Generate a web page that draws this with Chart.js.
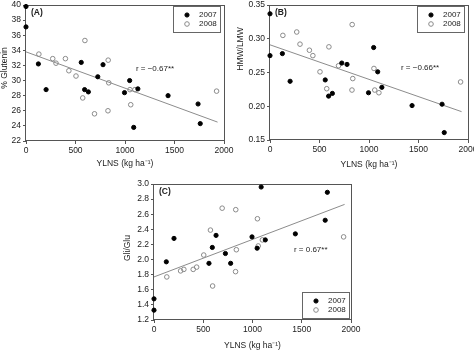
<!DOCTYPE html>
<html>
<head>
<meta charset="utf-8">
<script src="https://cdn.jsdelivr.net/npm/chart.js@4.4.0/dist/chart.umd.min.js"></script>
<style>
  html, body { margin: 0; padding: 0; background: #fff; }
  body { width: 474px; height: 351px; position: relative; overflow: hidden; }
  canvas { position: absolute; }
</style>
</head>
<body>
<canvas id="chartA" style="left:0;top:0" width="236" height="175"></canvas>
<canvas id="chartB" style="left:236px;top:0" width="238" height="175"></canvas>
<canvas id="chartC" style="left:122px;top:175px" width="248" height="176"></canvas>
<script>
// YLNS (kg/ha) of each sample, per year
const ylns2007 = [0, 0, 125, 203, 558, 592, 630, 725, 778, 995, 1047, 1088, 1130, 1435, 1738, 1760];
const ylns2008 = [130, 270, 303, 398, 433, 505, 573, 595, 692, 830, 836, 828, 1050, 1058, 1100, 1925];

// (A) % Glutenin
const glutenin2007 = [39.8, 37.1, 32.2, 28.8, 32.4, 28.8, 28.5, 30.5, 32.1, 28.4, 30.0, 23.8, 28.9, 28.0, 26.9, 24.3];
const glutenin2008 = [33.5, 32.9, 32.3, 32.9, 31.3, 30.6, 27.7, 35.3, 25.6, 32.7, 29.7, 26.0, 28.8, 26.8, 28.8, 28.6];
// (B) HMW/LMW
const hmwLmw2007 = [0.337, 0.275, 0.278, 0.237, 0.239, 0.215, 0.219, 0.264, 0.262, 0.220, 0.287, 0.251, 0.228, 0.201, 0.203, 0.161];
const hmwLmw2008 = [0.305, 0.310, 0.292, 0.283, 0.275, 0.251, 0.226, 0.288, 0.260, 0.321, 0.241, 0.224, 0.256, 0.224, 0.220, 0.236];
// (C) Gli/Glu
const gliGlu2007 = [1.48, 1.33, 1.97, 2.28, 1.95, 2.16, 2.32, 2.08, 1.95, 2.30, 2.15, 2.96, 2.26, 2.34, 2.52, 2.89];
const gliGlu2008 = [1.77, 1.85, 1.87, 1.87, 1.90, 2.06, 2.39, 1.65, 2.68, 2.66, 2.13, 1.84, 2.54, 2.18, 2.26, 2.30];

// regression lines (start / end)
const fitX = [0, 1935];
const fitGlutenin = [33.8, 24.5];
const fitHmwLmw = [0.291, 0.192];
const fitGliGlu = [1.77, 2.73];

const xTicks = [0, 500, 1000, 1500, 2000];
const years = ['2007', '2008'];

const FONT = '"Liberation Sans", Arial, sans-serif';
const TEXT = '#222';
const AXIS = '#555';

function pts(xs, ys) { return xs.map((x, i) => ({ x: x, y: ys[i] })); }

// frame, legend box, panel letter, r value and rotated y title
const panelExtras = {
  id: 'panelExtras',
  beforeDatasetsDraw(chart) {
    const { ctx, chartArea: a } = chart;
    ctx.save();
    ctx.strokeStyle = AXIS;
    ctx.lineWidth = 1;
    ctx.strokeRect(Math.round(a.left) - 0.5, Math.round(a.top) + 0.5,
                   Math.round(a.right - a.left) + 1, Math.round(a.bottom - a.top) - 1);
    ctx.restore();
  },
  afterDraw(chart, args, o) {
    const { ctx, chartArea: a, scales } = chart;
    ctx.save();
    ctx.fillStyle = TEXT;
    ctx.textBaseline = 'middle';

    // panel letter
    ctx.font = 'bold 8.5px ' + FONT;
    ctx.textAlign = 'left';
    ctx.fillText(o.letter, a.left + 5, a.top + 8);

    // correlation
    ctx.font = '8px ' + FONT;
    ctx.fillText(o.rText, scales.x.getPixelForValue(o.rAt[0]), scales.y.getPixelForValue(o.rAt[1]));

    // y title
    ctx.save();
    ctx.translate(o.yTitle.x, o.yTitle.y);
    ctx.rotate(-Math.PI / 2);
    ctx.textAlign = 'center';
    ctx.font = '8.5px ' + FONT;
    ctx.fillText(o.yTitle.text, 0, 0);
    ctx.restore();

    // legend
    const lw = 47, lh = 26;
    const left = Math.round(a.right - o.legendInset - lw);
    const top = o.legendAt === 'bottom' ? Math.round(a.bottom - 2 - lh) : Math.round(a.top + 1);
    ctx.strokeStyle = '#666';
    ctx.lineWidth = 1;
    ctx.strokeRect(left + 0.5, top + 0.5, lw, lh);
    ctx.font = '8px ' + FONT;
    chart.data.datasets.slice(0, 2).forEach((ds, i) => {
      const cy = top + 9 + i * 9;
      ctx.beginPath();
      ctx.arc(left + 14, cy, ds.pointRadius, 0, Math.PI * 2);
      ctx.fillStyle = ds.backgroundColor;
      ctx.fill();
      ctx.strokeStyle = ds.borderColor;
      ctx.lineWidth = ds.borderWidth;
      ctx.stroke();
      ctx.fillStyle = TEXT;
      ctx.fillText(ds.label, left + 26, cy);
    });
    ctx.restore();
  }
};

function makePanel(id, cfg) {
  return new Chart(document.getElementById(id), {
    data: {
      datasets: [
        { type: 'scatter', label: years[0], data: pts(ylns2007, cfg.y07),
          backgroundColor: '#000', borderColor: '#000', borderWidth: 1, pointRadius: 2.1, clip: false },
        { type: 'scatter', label: years[1], data: pts(ylns2008, cfg.y08),
          backgroundColor: 'rgba(255,255,255,0)', borderColor: '#8a8a8a', borderWidth: 1, pointRadius: 2.3, clip: false },
        { type: 'line', label: 'fit', data: pts(fitX, cfg.fit),
          borderColor: '#8c8c8c', borderWidth: 1, pointRadius: 0, fill: false }
      ]
    },
    options: {
      responsive: false,
      animation: false,
      devicePixelRatio: 1,
      layout: { padding: { top: cfg.padTop, right: cfg.padRight, left: 0, bottom: 0 } },
      plugins: {
        legend: { display: false },
        tooltip: { enabled: false },
        panelExtras: cfg.extras
      },
      scales: {
        x: {
          type: 'linear', min: 0, max: 2000,
          afterBuildTicks: s => { s.ticks = xTicks.map(v => ({ value: v })); },
          ticks: { color: TEXT, font: { family: FONT, size: 8.5 }, padding: 2, maxRotation: 0, autoSkip: false,
                   callback: v => String(v) },
          grid: { drawOnChartArea: false, tickLength: 3, color: AXIS },
          border: { display: false },
          title: { display: true, text: 'YLNS (kg ha\u207B\u00B9)', color: TEXT,
                   font: { family: FONT, size: 8.5 }, padding: { top: 0, bottom: cfg.xTitlePad } },
          afterFit: s => { s.height = cfg.xH; s.paddingLeft = 0; s.paddingRight = 0; }
        },
        y: {
          type: 'linear', min: cfg.yMin, max: cfg.yMax,
          afterBuildTicks: s => { s.ticks = cfg.yTicks.map(v => ({ value: v })); },
          ticks: { color: TEXT, font: { family: FONT, size: 8.5 }, padding: 2,
                   callback: v => v.toFixed(cfg.dec) },
          grid: { drawOnChartArea: false, tickLength: 3, color: AXIS },
          border: { display: false },
          afterFit: s => { s.width = cfg.yW; s.paddingTop = 0; s.paddingBottom = 0; }
        }
      }
    },
    plugins: [panelExtras]
  });
}

makePanel('chartA', {
  y07: glutenin2007, y08: glutenin2008, fit: fitGlutenin,
  yMin: 22, yMax: 40, yTicks: [22, 24, 26, 28, 30, 32, 34, 36, 38, 40], dec: 0,
  yW: 26, xH: 34, padTop: 4, padRight: 12, xTitlePad: 6,
  extras: { letter: '(A)', rText: 'r = \u22120.67**', rAt: [1110, 31.5],
            yTitle: { text: '% Glutenin', x: 5, y: 68 }, legendAt: 'top', legendInset: 4 }
});

makePanel('chartB', {
  y07: hmwLmw2007, y08: hmwLmw2008, fit: fitHmwLmw,
  yMin: 0.15, yMax: 0.35, yTicks: [0.15, 0.20, 0.25, 0.30, 0.35], dec: 2,
  yW: 34, xH: 35, padTop: 3, padRight: 6, xTitlePad: 5,
  extras: { letter: '(B)', rText: 'r = \u22120.66**', rAt: [1323, 0.257],
            yTitle: { text: 'HMW/LMW', x: 5, y: 49 }, legendAt: 'top', legendInset: 4 }
});

makePanel('chartC', {
  y07: gliGlu2007, y08: gliGlu2008, fit: fitGliGlu,
  yMin: 1.2, yMax: 3.0, yTicks: [1.2, 1.4, 1.6, 1.8, 2.0, 2.2, 2.4, 2.6, 2.8, 3.0], dec: 1,
  yW: 32, xH: 31, padTop: 9, padRight: 19, xTitlePad: 0,
  extras: { letter: '(C)', rText: 'r = 0.67**', rAt: [1421, 2.13],
            yTitle: { text: 'Gli/Glu', x: 6, y: 73 }, legendAt: 'bottom', legendInset: 2 }
});
</script>
</body>
</html>
